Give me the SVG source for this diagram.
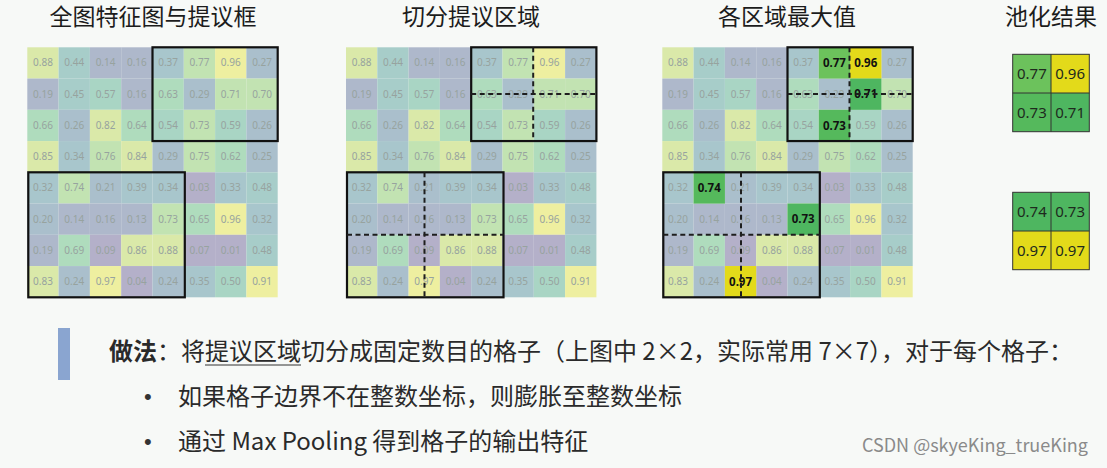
<svg xmlns="http://www.w3.org/2000/svg" xmlns:xlink="http://www.w3.org/1999/xlink" width="1107" height="468" viewBox="0 0 1107 468">
<style>
.bg{fill:#f7f9f7}
.title{font-family:"Noto Sans CJK SC","Noto Sans",sans-serif;font-size:23px;fill:#1c1c1c;text-anchor:middle}
.body{font-family:"Noto Sans CJK SC","Noto Sans",sans-serif;font-size:24px;fill:#2a2a2a}
.bul{font-family:"Liberation Sans",sans-serif;font-size:22px;fill:#333}
.wm{font-family:"Noto Sans CJK SC","Noto Sans",sans-serif;font-size:18px;fill:#8a8a8a}
.cv{font-family:"Noto Sans","DejaVu Sans",sans-serif;font-size:10px;fill:#97a39f;text-anchor:middle}
.hv{font-family:"Noto Sans","DejaVu Sans",sans-serif;font-size:11.5px;font-weight:bold;fill:#111;text-anchor:middle}
.rv{font-family:"Noto Sans","DejaVu Sans",sans-serif;font-size:15px;fill:#1e2a1e;text-anchor:middle}
.box{fill:none;stroke:#111;stroke-width:2.2}
.dash{fill:none;stroke:#1e1e1e;stroke-width:2;stroke-dasharray:5 3.5}
.rg{fill:none;stroke:#333;stroke-width:1}
.v0{fill:#b4b0c9}.v1{fill:#aeb8cb}.v2{fill:#aabfcc}.v3{fill:#a8c6cc}.v4{fill:#a7cdc9}
.v5{fill:#a9d5c4}.v6{fill:#afdcbd}.v7{fill:#c2e3b2}.v8{fill:#dae9a9}.v9{fill:#eeefa0}
.gA{fill:#6cc25c}.gB{fill:#55b95c}.gC{fill:#4eb660}.yA{fill:#e3da1a}
</style>
<defs>
<g id="fm">
<g>
<rect class="v8" x="0" y="0" width="31.3" height="31.25"/><rect class="v4" x="31.3" y="0" width="31.3" height="31.25"/><rect class="v1" x="62.6" y="0" width="31.3" height="31.25"/><rect class="v1" x="93.9" y="0" width="31.3" height="31.25"/><rect class="v3" x="125.2" y="0" width="31.3" height="31.25"/><rect class="v7" x="156.5" y="0" width="31.3" height="31.25"/><rect class="v9" x="187.8" y="0" width="31.3" height="31.25"/><rect class="v2" x="219.1" y="0" width="31.3" height="31.25"/>
<rect class="v1" x="0" y="31.25" width="31.3" height="31.25"/><rect class="v4" x="31.3" y="31.25" width="31.3" height="31.25"/><rect class="v5" x="62.6" y="31.25" width="31.3" height="31.25"/><rect class="v1" x="93.9" y="31.25" width="31.3" height="31.25"/><rect class="v6" x="125.2" y="31.25" width="31.3" height="31.25"/><rect class="v2" x="156.5" y="31.25" width="31.3" height="31.25"/><rect class="v7" x="187.8" y="31.25" width="31.3" height="31.25"/><rect class="v7" x="219.1" y="31.25" width="31.3" height="31.25"/>
<rect class="v6" x="0" y="62.5" width="31.3" height="31.25"/><rect class="v2" x="31.3" y="62.5" width="31.3" height="31.25"/><rect class="v8" x="62.6" y="62.5" width="31.3" height="31.25"/><rect class="v6" x="93.9" y="62.5" width="31.3" height="31.25"/><rect class="v5" x="125.2" y="62.5" width="31.3" height="31.25"/><rect class="v7" x="156.5" y="62.5" width="31.3" height="31.25"/><rect class="v5" x="187.8" y="62.5" width="31.3" height="31.25"/><rect class="v2" x="219.1" y="62.5" width="31.3" height="31.25"/>
<rect class="v8" x="0" y="93.75" width="31.3" height="31.25"/><rect class="v3" x="31.3" y="93.75" width="31.3" height="31.25"/><rect class="v7" x="62.6" y="93.75" width="31.3" height="31.25"/><rect class="v8" x="93.9" y="93.75" width="31.3" height="31.25"/><rect class="v2" x="125.2" y="93.75" width="31.3" height="31.25"/><rect class="v7" x="156.5" y="93.75" width="31.3" height="31.25"/><rect class="v6" x="187.8" y="93.75" width="31.3" height="31.25"/><rect class="v2" x="219.1" y="93.75" width="31.3" height="31.25"/>
<rect class="v3" x="0" y="125" width="31.3" height="31.25"/><rect class="v7" x="31.3" y="125" width="31.3" height="31.25"/><rect class="v2" x="62.6" y="125" width="31.3" height="31.25"/><rect class="v3" x="93.9" y="125" width="31.3" height="31.25"/><rect class="v3" x="125.2" y="125" width="31.3" height="31.25"/><rect class="v0" x="156.5" y="125" width="31.3" height="31.25"/><rect class="v3" x="187.8" y="125" width="31.3" height="31.25"/><rect class="v4" x="219.1" y="125" width="31.3" height="31.25"/>
<rect class="v2" x="0" y="156.25" width="31.3" height="31.25"/><rect class="v1" x="31.3" y="156.25" width="31.3" height="31.25"/><rect class="v1" x="62.6" y="156.25" width="31.3" height="31.25"/><rect class="v1" x="93.9" y="156.25" width="31.3" height="31.25"/><rect class="v7" x="125.2" y="156.25" width="31.3" height="31.25"/><rect class="v6" x="156.5" y="156.25" width="31.3" height="31.25"/><rect class="v9" x="187.8" y="156.25" width="31.3" height="31.25"/><rect class="v3" x="219.1" y="156.25" width="31.3" height="31.25"/>
<rect class="v1" x="0" y="187.5" width="31.3" height="31.25"/><rect class="v6" x="31.3" y="187.5" width="31.3" height="31.25"/><rect class="v0" x="62.6" y="187.5" width="31.3" height="31.25"/><rect class="v8" x="93.9" y="187.5" width="31.3" height="31.25"/><rect class="v8" x="125.2" y="187.5" width="31.3" height="31.25"/><rect class="v0" x="156.5" y="187.5" width="31.3" height="31.25"/><rect class="v0" x="187.8" y="187.5" width="31.3" height="31.25"/><rect class="v4" x="219.1" y="187.5" width="31.3" height="31.25"/>
<rect class="v8" x="0" y="218.75" width="31.3" height="31.25"/><rect class="v2" x="31.3" y="218.75" width="31.3" height="31.25"/><rect class="v9" x="62.6" y="218.75" width="31.3" height="31.25"/><rect class="v0" x="93.9" y="218.75" width="31.3" height="31.25"/><rect class="v2" x="125.2" y="218.75" width="31.3" height="31.25"/><rect class="v3" x="156.5" y="218.75" width="31.3" height="31.25"/><rect class="v5" x="187.8" y="218.75" width="31.3" height="31.25"/><rect class="v9" x="219.1" y="218.75" width="31.3" height="31.25"/>
</g>
<text class="cv" y="19.1"><tspan x="15.65">0.88</tspan><tspan x="46.95">0.44</tspan><tspan x="78.25">0.14</tspan><tspan x="109.55">0.16</tspan><tspan x="140.85">0.37</tspan><tspan x="172.15">0.77</tspan><tspan x="203.45">0.96</tspan><tspan x="234.75">0.27</tspan></text>
<text class="cv" y="50.35"><tspan x="15.65">0.19</tspan><tspan x="46.95">0.45</tspan><tspan x="78.25">0.57</tspan><tspan x="109.55">0.16</tspan><tspan x="140.85">0.63</tspan><tspan x="172.15">0.29</tspan><tspan x="203.45">0.71</tspan><tspan x="234.75">0.70</tspan></text>
<text class="cv" y="81.6"><tspan x="15.65">0.66</tspan><tspan x="46.95">0.26</tspan><tspan x="78.25">0.82</tspan><tspan x="109.55">0.64</tspan><tspan x="140.85">0.54</tspan><tspan x="172.15">0.73</tspan><tspan x="203.45">0.59</tspan><tspan x="234.75">0.26</tspan></text>
<text class="cv" y="112.85"><tspan x="15.65">0.85</tspan><tspan x="46.95">0.34</tspan><tspan x="78.25">0.76</tspan><tspan x="109.55">0.84</tspan><tspan x="140.85">0.29</tspan><tspan x="172.15">0.75</tspan><tspan x="203.45">0.62</tspan><tspan x="234.75">0.25</tspan></text>
<text class="cv" y="144.1"><tspan x="15.65">0.32</tspan><tspan x="46.95">0.74</tspan><tspan x="78.25">0.21</tspan><tspan x="109.55">0.39</tspan><tspan x="140.85">0.34</tspan><tspan x="172.15">0.03</tspan><tspan x="203.45">0.33</tspan><tspan x="234.75">0.48</tspan></text>
<text class="cv" y="175.35"><tspan x="15.65">0.20</tspan><tspan x="46.95">0.14</tspan><tspan x="78.25">0.16</tspan><tspan x="109.55">0.13</tspan><tspan x="140.85">0.73</tspan><tspan x="172.15">0.65</tspan><tspan x="203.45">0.96</tspan><tspan x="234.75">0.32</tspan></text>
<text class="cv" y="206.6"><tspan x="15.65">0.19</tspan><tspan x="46.95">0.69</tspan><tspan x="78.25">0.09</tspan><tspan x="109.55">0.86</tspan><tspan x="140.85">0.88</tspan><tspan x="172.15">0.07</tspan><tspan x="203.45">0.01</tspan><tspan x="234.75">0.48</tspan></text>
<text class="cv" y="237.85"><tspan x="15.65">0.83</tspan><tspan x="46.95">0.24</tspan><tspan x="78.25">0.97</tspan><tspan x="109.55">0.04</tspan><tspan x="140.85">0.24</tspan><tspan x="172.15">0.35</tspan><tspan x="203.45">0.50</tspan><tspan x="234.75">0.91</tspan></text>
</g>
</defs>
<rect class="bg" x="0" y="0" width="1107" height="468"/>

<g id="titles">
<text class="title" x="153" y="25">全图特征图与提议框</text>
<text class="title" x="471" y="25">切分提议区域</text>
<text class="title" x="787" y="25">各区域最大值</text>
<text class="title" x="1051" y="25">池化结果</text>
</g>

<g id="grid1">
<use href="#fm" x="27.3" y="47.3"/>
<rect class="box" x="152.5" y="47.3" width="125.2" height="93.75"/>
<rect class="box" x="28.3" y="172.3" width="156.5" height="125"/>
</g>

<g id="grid2">
<use href="#fm" x="346" y="47.3"/>
<rect class="box" x="471.2" y="47.3" width="125.2" height="93.75"/>
<rect class="box" x="347" y="172.3" width="156.5" height="125"/>
<line class="dash" x1="533.2" y1="47.3" x2="533.2" y2="141"/>
<line class="dash" x1="471.2" y1="94" x2="596.4" y2="94"/>
<line class="dash" x1="424.5" y1="172.3" x2="424.5" y2="297.3"/>
<line class="dash" x1="347" y1="234.8" x2="503.5" y2="234.8"/>
</g>

<g id="grid3">
<use href="#fm" x="662.3" y="47.3"/>
<rect class="gA" x="818.8" y="47.3" width="31.3" height="31.25"/>
<rect class="yA" x="850.1" y="47.3" width="31.3" height="31.25"/>
<rect class="gC" x="850.1" y="78.55" width="31.3" height="31.25"/>
<rect class="gB" x="818.8" y="109.8" width="31.3" height="31.25"/>
<rect class="gB" x="693.6" y="172.3" width="31.3" height="31.25"/>
<rect class="gC" x="787.5" y="203.55" width="31.3" height="31.25"/>
<rect class="yA" x="724.9" y="266.05" width="31.3" height="31.25"/>
<text class="hv" x="834.45" y="67">0.77</text>
<text class="hv" x="865.75" y="67">0.96</text>
<text class="hv" x="865.75" y="98.25">0.71</text>
<text class="hv" x="834.45" y="129.5">0.73</text>
<text class="hv" x="709.25" y="192">0.74</text>
<text class="hv" x="803.15" y="223.25">0.73</text>
<text class="hv" x="740.55" y="285.75">0.97</text>
<rect class="box" x="787.5" y="47.3" width="125.2" height="93.75"/>
<rect class="box" x="663.3" y="172.3" width="156.5" height="125"/>
<line class="dash" x1="849.5" y1="47.3" x2="849.5" y2="141"/>
<line class="dash" x1="787.5" y1="94" x2="912.7" y2="94"/>
<line class="dash" x1="741" y1="172.3" x2="741" y2="297.3"/>
<line class="dash" x1="663.3" y1="234.8" x2="819.8" y2="234.8"/>
</g>

<g id="result1">
<rect class="gA" x="1012.7" y="54.3" width="38.3" height="38.7"/>
<rect class="yA" x="1051" y="54.3" width="38.3" height="38.7"/>
<rect class="gB" x="1012.7" y="93" width="38.3" height="38.7"/>
<rect class="gC" x="1051" y="93" width="38.3" height="38.7"/>
<rect class="rg" x="1012.7" y="54.3" width="76.6" height="77.4"/>
<line class="rg" x1="1051" y1="54.3" x2="1051" y2="131.7"/>
<line class="rg" x1="1012.7" y1="93" x2="1089.3" y2="93"/>
<text class="rv" x="1031.85" y="79">0.77</text>
<text class="rv" x="1070.15" y="79">0.96</text>
<text class="rv" x="1031.85" y="117.7">0.73</text>
<text class="rv" x="1070.15" y="117.7">0.71</text>
</g>

<g id="result2">
<rect class="gC" x="1012.7" y="192.3" width="38.3" height="38.7"/>
<rect class="gC" x="1051" y="192.3" width="38.3" height="38.7"/>
<rect class="yA" x="1012.7" y="231" width="38.3" height="38.7"/>
<rect class="yA" x="1051" y="231" width="38.3" height="38.7"/>
<rect class="rg" x="1012.7" y="192.3" width="76.6" height="77.4"/>
<line class="rg" x1="1051" y1="192.3" x2="1051" y2="269.7"/>
<line class="rg" x1="1012.7" y1="231" x2="1089.3" y2="231"/>
<text class="rv" x="1031.85" y="217">0.74</text>
<text class="rv" x="1070.15" y="217">0.73</text>
<text class="rv" x="1031.85" y="255.7">0.97</text>
<text class="rv" x="1070.15" y="255.7">0.97</text>
</g>

<g id="connectors"/>

<g id="notes">
<rect x="58" y="328" width="12" height="52" fill="#8aa5d0"/>
<text class="body" x="109" y="360"><tspan font-weight="bold">做法</tspan>：将提议区域切分成固定数目的格子（上图中 2×2，实际常用 7×7），对于每个格子：</text>
<line x1="205" y1="365" x2="301" y2="365" stroke="#333" stroke-width="1"/>
<text class="bul" x="144" y="404">•</text>
<text class="body" x="178" y="405">如果格子边界不在整数坐标，则膨胀至整数坐标</text>
<text class="bul" x="144" y="449">•</text>
<text class="body" x="178" y="450">通过 Max Pooling 得到格子的输出特征</text>
<text class="wm" x="862" y="452">CSDN @skyeKing_trueKing</text>
</g>
</svg>
